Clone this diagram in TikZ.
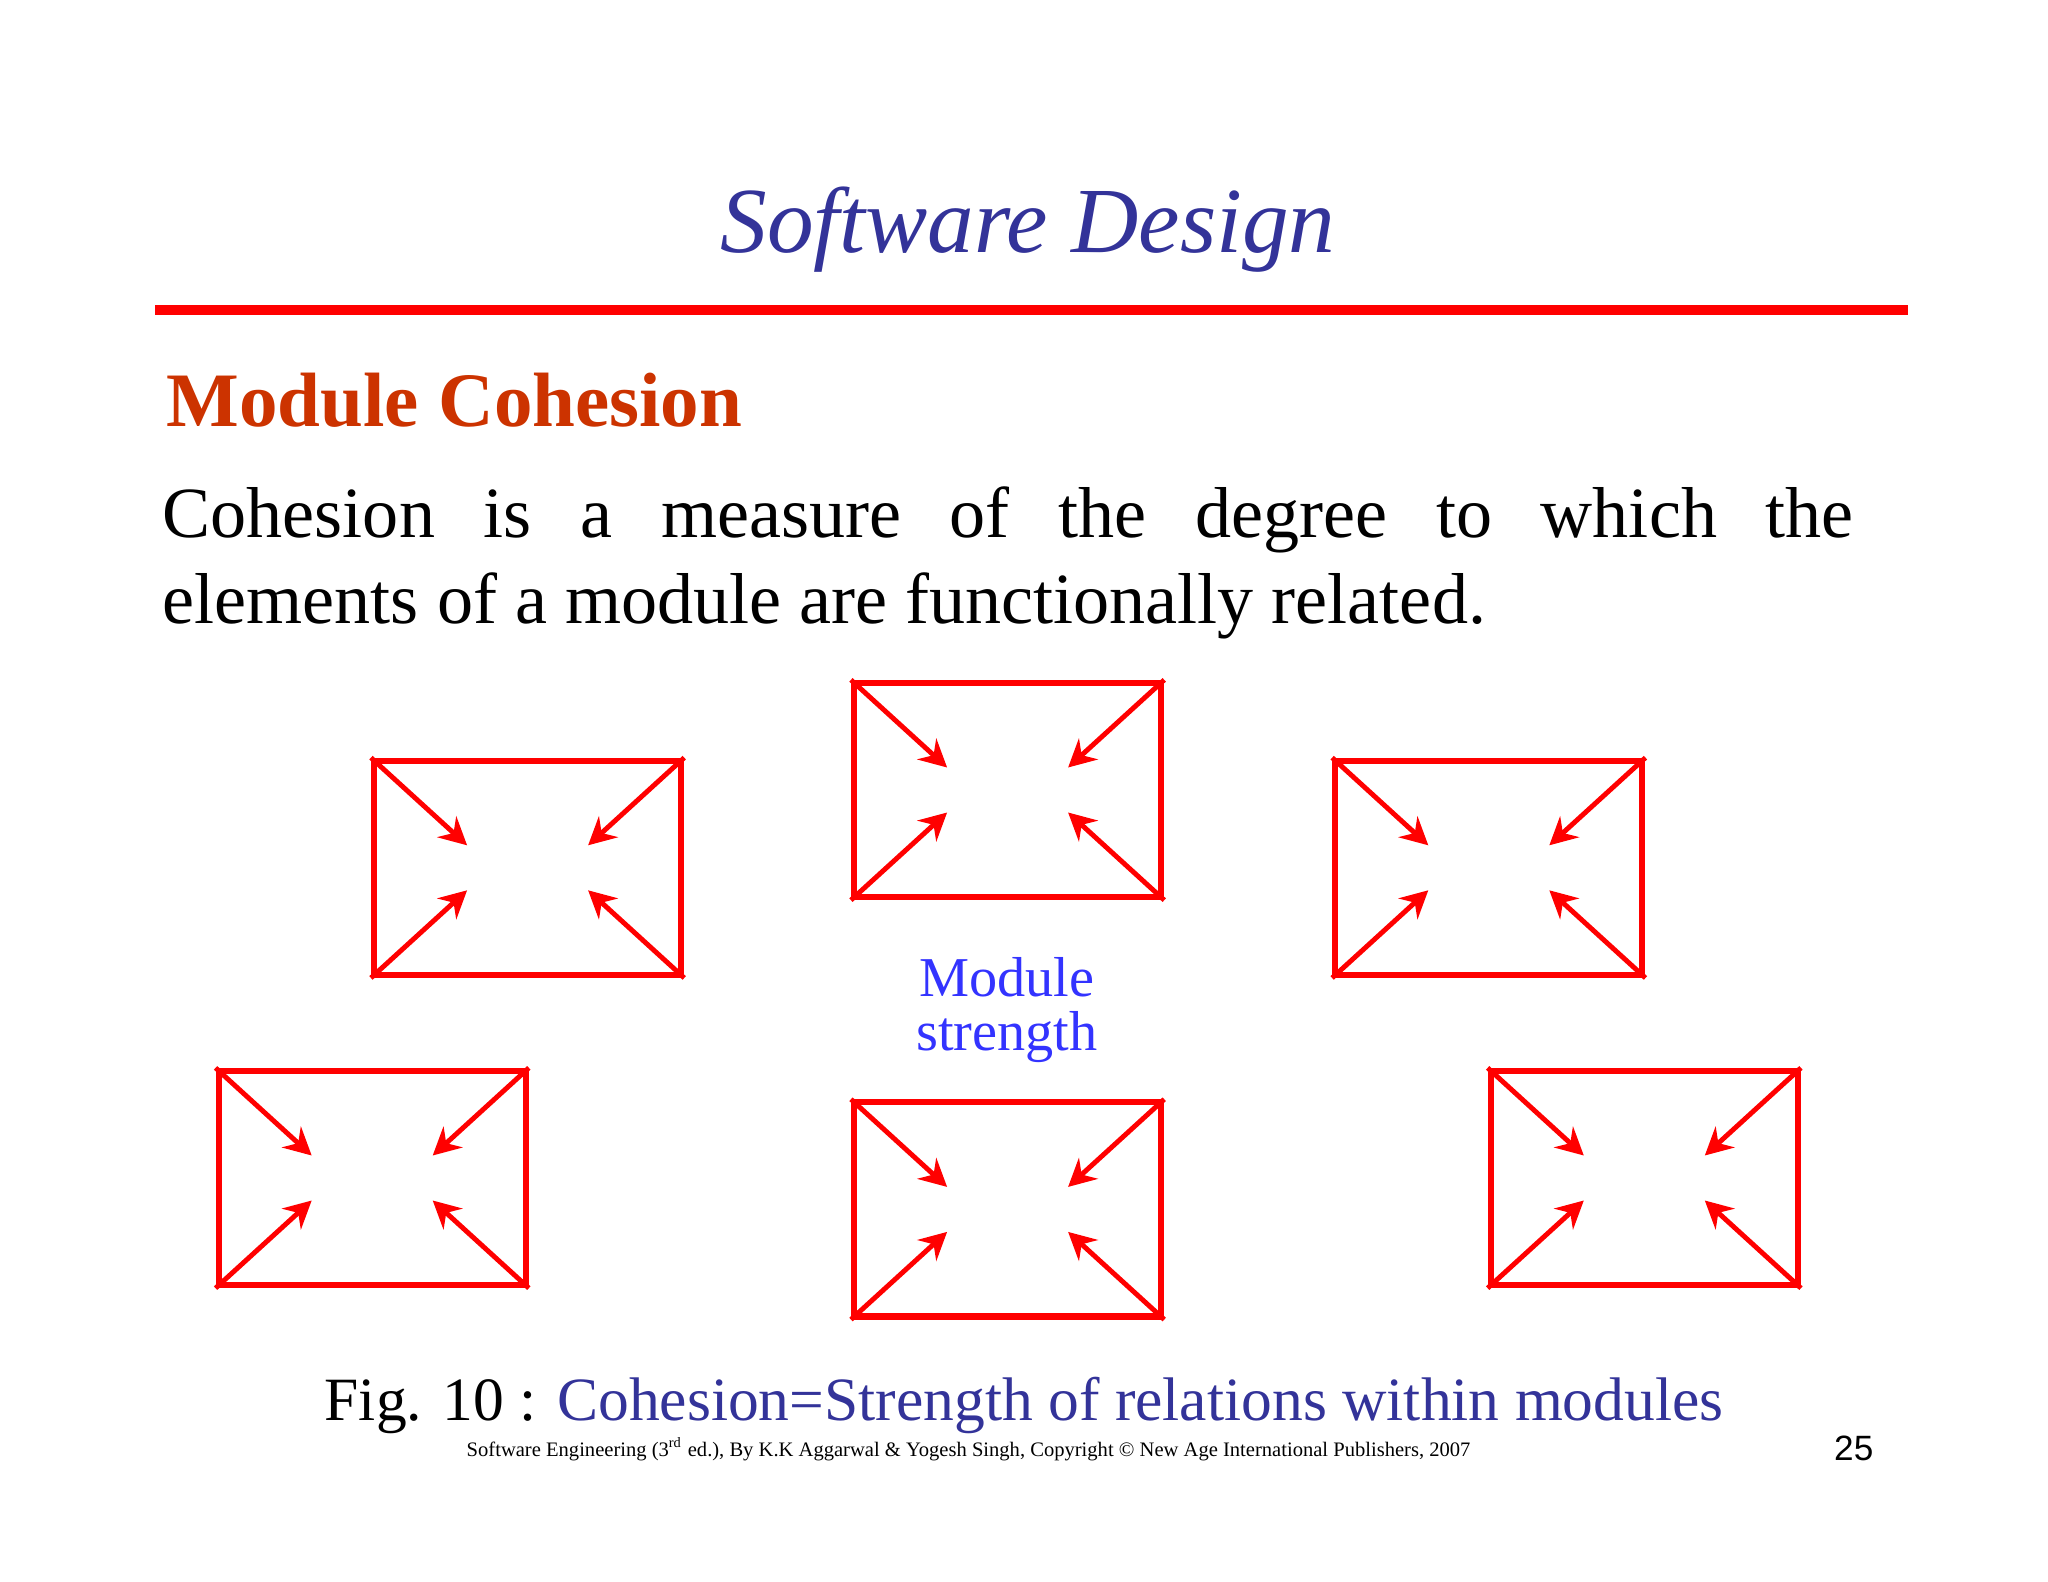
\documentclass[tikz,border=0pt]{standalone}
\usepackage{fontspec}
\setmainfont{Liberation Serif}
\newfontfamily\slidesans{Liberation Sans}
\usetikzlibrary{arrows.meta}
\definecolor{titleblue}{RGB}{51,51,153}
\definecolor{headred}{RGB}{204,51,0}
\definecolor{labelblue}{RGB}{51,51,255}
\tikzset{modbox/.style={draw=red, line width=1.75pt, minimum width=3.07cm,
  minimum height=2.14cm, inner sep=0pt}}
\tikzset{pull/.style={red, line width=1.4pt,
  -{Stealth[length=7.8pt,width=8pt,inset=2.6pt]}}}

\begin{document}
\begin{tikzpicture}[x=0.01cm,y=-0.01cm]
      \useasboundingbox (0,0) rectangle (2048,1582);

      \node [anchor=base, text=titleblue, font=\fontsize{26.5}{30}\selectfont\itshape] (title) at (1028,252) {Software Design};
      \coordinate (rulel) at (155,310);
      \coordinate (ruler) at (1908,310);
      \draw [red, line width=3.1pt] (rulel) -- (ruler);

      \node [anchor=base west, inner sep=0pt, text=headred, font=\fontsize{21.9}{26}\selectfont\bfseries] (head) at (166,426) {Module Cohesion};
      \node [anchor=base west, inner sep=0pt, text width=16.9cm, align=justify, font=\fontsize{20.5}{24.7}\selectfont] (body) at (162,537) {Cohesion is a measure of the degree to which the\linebreak elements of a module are functionally related.};

      \foreach \m/\x/\y in {mA/527.6/867.8, mB/1007.6/790, mC/1488.8/867.8,
                           mD/372.2/1178, mE/1007.6/1209.4, mF/1644.3/1178} {
        \node [modbox] (\m) at (\x,\y) {};
        \coordinate (\m-nw) at ([shift={(-60.5,-22.5)}]\m.center);
        \coordinate (\m-ne) at ([shift={(60.5,-22.5)}]\m.center);
        \coordinate (\m-sw) at ([shift={(-60.5,22.5)}]\m.center);
        \coordinate (\m-se) at ([shift={(60.5,22.5)}]\m.center);
        \draw [pull] (\m.north west) -- (\m-nw);
        \draw [pull] (\m.north east) -- (\m-ne);
        \draw [pull] (\m.south west) -- (\m-sw);
        \draw [pull] (\m.south east) -- (\m-se);
      }

      \node [align=center, inner sep=0pt, text=labelblue, font=\fontsize{16}{15.3}\selectfont] (strength) at (1007,1010) {Module\\strength};

      \node [anchor=base west, inner sep=0pt, font=\fontsize{17.5}{20}\selectfont] (caption) at (324,1420) {Fig. 10 : \textcolor{titleblue}{Cohesion=Strength of relations within modules}};
      \node [anchor=base west, inner sep=0pt, font=\fontsize{5.85}{7}\selectfont] (foot) at (466,1456) {Software Engineering (3\textsuperscript{rd} ed.), By K.K Aggarwal \& Yogesh Singh, Copyright \textcopyright{} New Age International Publishers, 2007};
      \node [anchor=base east, inner sep=0pt, font=\slidesans\fontsize{10}{12}\selectfont] (pageno) at (1874,1460) {25};
    \end{tikzpicture}
\end{document}
